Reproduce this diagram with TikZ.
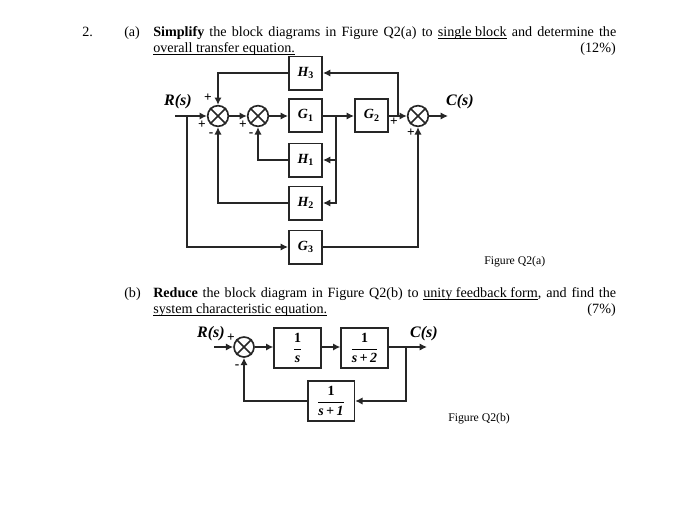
\documentclass[tikz,border=0pt]{standalone}
\usepackage{fontspec}
\setmainfont{Liberation Serif}
\usetikzlibrary{arrows.meta}
\newcommand{\lbl}[2]{{\bfseries\itshape #1}\raisebox{-2pt}{\fontsize{7.5}{8}\selectfont\bfseries #2}}
\newcommand{\frc}[2]{$\displaystyle\frac{\hbox{\fontsize{10.5}{11}\selectfont\bfseries #1}}{\hbox{\fontsize{10.5}{11}\selectfont\bfseries\itshape #2}}$}
\newsavebox{\ulbox}
\newcommand{\ulin}[1]{\sbox{\ulbox}{#1}\rlap{\usebox{\ulbox}}\rule[-1.8pt]{\wd\ulbox}{0.55pt}}
\begin{document}
\begin{tikzpicture}[x=0.75pt,y=-0.75pt,
  line/.style={line width=1.25pt,draw=black!85},
  arr/.style={line,-{Latex[length=5.5pt,width=5.5pt]}},
  blockbox/.style={draw=black!85,line width=1.25pt,minimum width=25pt,minimum height=25pt,inner sep=0pt,font=\fontsize{10.5}{12}\selectfont},
  widebox/.style={blockbox,minimum width=35pt,minimum height=30pt},
  sumnode/.style={circle,draw=black!85,line width=1.25pt,minimum size=15.5pt,inner sep=0pt},
  txt/.style={anchor=base west,inner sep=0pt,font=\fontsize{10.6}{12}\selectfont},
  sig/.style={inner sep=0pt,font=\fontsize{12}{13}\selectfont\bfseries\itshape},
  sgn/.style={inner sep=0pt,font=\fontsize{10}{10}\selectfont\bfseries}]
\useasboundingbox (0,0) rectangle (700,525);
% text
\node[txt] (n2) at (82,36) {2.};
\node[txt] (pa) at (124,36) {(a)};
\node[txt] (t1) at (153,36) {\makebox[347.25pt][s]{\textbf{Simplify} the block diagrams in Figure Q2(a) to \ulin{single block} and determine the}};
\node[txt] (t2) at (153,52) {\ulin{overall transfer equation.}};
\node[txt,anchor=base east] (p12) at (616,52) {(12\%)};
\node[txt,font=\fontsize{8.8}{10}\selectfont] (fa) at (484,264) {Figure Q2(a)};
\node[txt] (pb) at (124,297) {(b)};
\node[txt] (t3) at (153,297) {\makebox[347.25pt][s]{\textbf{Reduce} the block diagram in Figure Q2(b) to \ulin{unity feedback form}, and find the}};
\node[txt] (t4) at (153,313) {\ulin{system characteristic equation.}};
\node[txt,anchor=base east] (p7) at (616,313) {(7\%)};
\node[txt,font=\fontsize{8.8}{10}\selectfont] (fb) at (448,421) {Figure Q2(b)};
% part (a)
\node[blockbox] (H3) at (305.5,73) {\lbl{H}{3}};
\node[blockbox] (G1) at (305.5,115.5) {\lbl{G}{1}};
\node[blockbox] (G2) at (371.5,115.5) {\lbl{G}{2}};
\node[blockbox] (H1) at (305.5,160) {\lbl{H}{1}};
\node[blockbox] (H2) at (305.5,203) {\lbl{H}{2}};
\node[blockbox] (G3) at (305.5,247) {\lbl{G}{3}};
\node[sumnode] (S1) at (218,116) {};
\node[sumnode] (S2) at (258,116) {};
\node[sumnode] (S3) at (418,116) {};
\coordinate (rin) at (175,116);
\coordinate (cout) at (448,116);
\coordinate (jr) at (187,116);
\coordinate (jm) at (336,116);
\coordinate (jc) at (398,116);
\draw[arr] (rin) -- (S1);
\draw[arr] (S1) -- (S2);
\draw[arr] (S2) -- (S2 -| G1.west);
\draw[arr] (G1.east |- S1) -- (G2.west |- S1);
\draw[arr] (G2.east |- S1) -- (S3);
\draw[arr] (S3) -- (cout);
\draw[arr] (jc) |- (H3);
\draw[arr] (H3) -| (S1);
\draw[arr] (jm) |- (H1);
\draw[arr] (jm) |- (H2);
\draw[arr] (H1) -| (S2);
\draw[arr] (H2) -| (S1);
\draw[arr] (jr) |- (G3);
\draw[arr] (G3) -| (S3);
\node[sig] (Rs) at (178,102) {R(s)};
\node[sig] (Cs) at (460,102) {C(s)};
\node[sgn] (p1) at (208,98) {+};
\node[sgn] (p2) at (202,125) {+};
\node[sgn] (m1) at (211,135) {-};
\node[sgn] (p3) at (243,125) {+};
\node[sgn] (m2) at (251,135) {-};
\node[sgn] (p4) at (394,122) {+};
\node[sgn] (p5) at (411,133) {+};
% part (b)
\node[widebox] (B1) at (297.5,348) {\frc{1}{s}};
\node[widebox] (B2) at (364.5,348) {\frc{1}{s\,+\,2}};
\node[widebox] (B3) at (331,401) {\frc{1}{s\,+\,1}};
\node[sumnode,minimum size=15pt] (S4) at (244,347) {};
\foreach \s in {S1,S2,S3,S4}{
  \draw[line] (\s.45) -- (\s.225);
  \draw[line] (\s.135) -- (\s.315);
}
\coordinate (rin2) at (214,347);
\coordinate (cout2) at (427,347);
\coordinate (jb) at (406,347);
\draw[arr] (rin2) -- (S4);
\draw[arr] (S4) -- (S4 -| B1.west);
\draw[arr] (B1.east |- S4) -- (B2.west |- S4);
\draw[arr] (B2.east |- cout2) -- (cout2);
\draw[arr] (jb) |- (B3);
\draw[arr] (B3) -| (S4);
\node[sig] (Rs2) at (211,334) {R(s)};
\node[sig] (Cs2) at (424,334) {C(s)};
\node[sgn] (p6) at (231,338) {+};
\node[sgn] (m3) at (237,367) {-};
\end{tikzpicture}
\end{document}
